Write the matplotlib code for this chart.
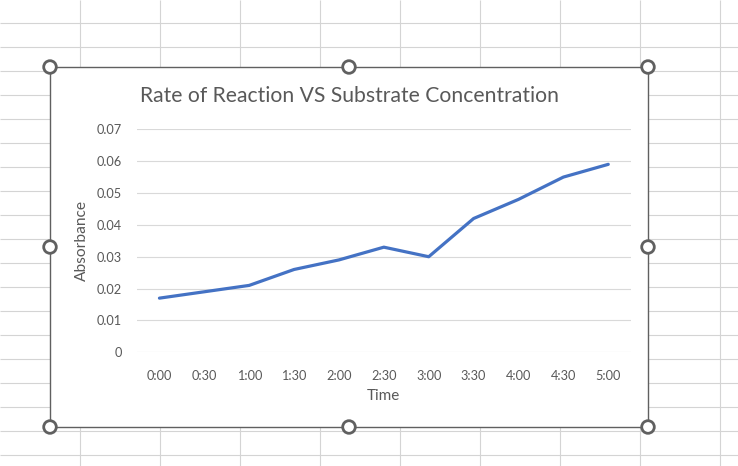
import matplotlib.pyplot as plt
from matplotlib.patches import Rectangle, Circle
import numpy as np

# data
times = ["0:00", "0:30", "1:00", "1:30", "2:00", "2:30",
         "3:00", "3:30", "4:00", "4:30", "5:00"]
absorbance = [0.017, 0.019, 0.021, 0.026, 0.029, 0.033,
              0.030, 0.042, 0.048, 0.055, 0.059]
y_ticks = [0, 0.01, 0.02, 0.03, 0.04, 0.05, 0.06, 0.07]
y_tick_labels = ["0", "0.01", "0.02", "0.03", "0.04", "0.05", "0.06", "0.07"]

plt.rcParams.update({
    'font.family': ['Lato', 'DejaVu Sans'],
    'text.color': '#595959',
})

W, H = 738, 466
fig = plt.figure(figsize=(W / 100, H / 100), dpi=100)

# spreadsheet background in pixel coords
bg = fig.add_axes([0, 0, 1, 1])
bg.set_xlim(0, W)
bg.set_ylim(H, 0)
bg.axis('off')
grid_c = '#d4d4d4'
bg.vlines(79.5 + 80 * np.arange(9), 0, H, color=grid_c, lw=0.8)
bg.hlines(22.5 + 24 * np.arange(19), 0, W, color=grid_c, lw=0.8)

# chart box + selection handles
cx0, cy0, cx1, cy1 = 50, 67, 648, 427
bg.add_patch(Rectangle((cx0, cy0), cx1 - cx0, cy1 - cy0, facecolor='white',
                       edgecolor='#606060', lw=1.0, zorder=2))
cxm, cym = (cx0 + cx1) / 2, (cy0 + cy1) / 2
for hx, hy in [(cx0, cy0), (cxm, cy0), (cx1, cy0), (cx0, cym), (cx1, cym),
               (cx0, cy1), (cxm, cy1), (cx1, cy1)]:
    bg.add_patch(Circle((hx, hy), 6.3, facecolor='white', edgecolor='#606060',
                        lw=2.0, zorder=3))

bg.text(349, 95.5, "Rate of Reaction VS Substrate Concentration", ha='center',
        va='center', fontsize=15.2, color='#595959', zorder=4)

# plot area
px0, px1 = 137, 630.7
py_top, py_bot = 129.3, 352.3
ax = fig.add_axes([px0 / W, 1 - py_bot / H, (px1 - px0) / W, (py_bot - py_top) / H])
ax.patch.set_alpha(0)
x = np.arange(len(times))
ax.plot(x, absorbance, color='#4472C4', lw=2.3, solid_capstyle='round',
        solid_joinstyle='round', zorder=3)
ax.set_xlim(-0.5, len(times) - 0.5)
ax.set_ylim(0, 0.07)
ax.set_yticks(y_ticks)
ax.set_yticklabels(y_tick_labels)
ax.set_xticks(x)
ax.set_xticklabels(times)
ax.yaxis.grid(True, color='#d9d9d9', lw=0.8)
ax.set_axisbelow(True)
for s in ax.spines.values():
    s.set_visible(False)
ax.tick_params(length=0, labelsize=9.2, labelcolor='#595959')
ax.tick_params(axis='x', pad=13)
ax.tick_params(axis='y', pad=11)

ax.set_xlabel("Time", fontsize=11, color='#595959')
ax.set_ylabel("Absorbance", fontsize=11.2, color='#595959')
ax.xaxis.set_label_coords(383.3 / W, 1 - 396 / H, transform=fig.transFigure)
ax.yaxis.set_label_coords(81.7 / W, 1 - 240.7 / H, transform=fig.transFigure)
ax.xaxis.label.set_va('center')
ax.yaxis.label.set_va('center')

plt.savefig("out.png", dpi=100)
